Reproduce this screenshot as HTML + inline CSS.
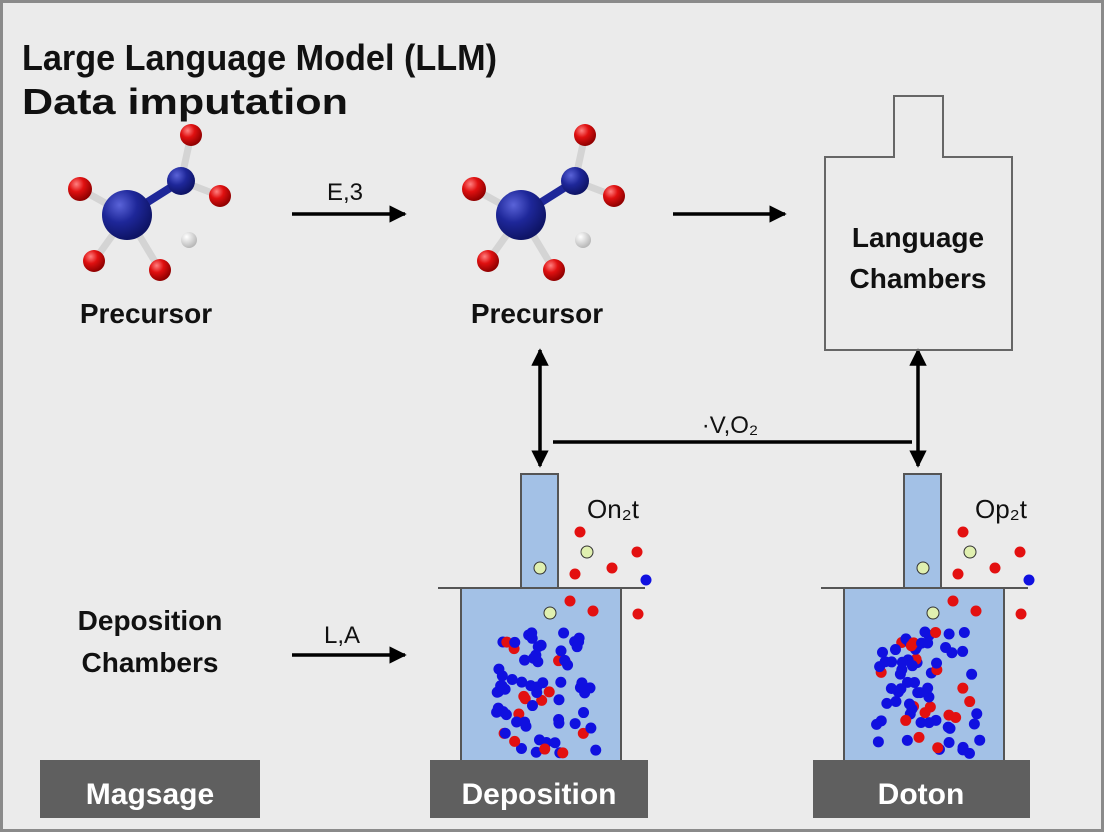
<!DOCTYPE html>
<html><head><meta charset="utf-8"><style>
html,body{margin:0;padding:0;background:#ebebeb}
svg{display:block}
text{font-family:"Liberation Sans",sans-serif;font-weight:bold;fill:#111}
</style></head><body>
<svg width="1104" height="832" viewBox="0 0 1104 832" xmlns="http://www.w3.org/2000/svg">
<defs>
<radialGradient id="bl" cx="35%" cy="30%" r="70%"><stop offset="0" stop-color="#5a63d8"/><stop offset="0.5" stop-color="#1e2799"/><stop offset="1" stop-color="#0e1466"/></radialGradient>
<radialGradient id="rd" cx="35%" cy="30%" r="70%"><stop offset="0" stop-color="#ff8080"/><stop offset="0.45" stop-color="#e01010"/><stop offset="1" stop-color="#900000"/></radialGradient>
<radialGradient id="wh" cx="35%" cy="30%" r="70%"><stop offset="0" stop-color="#ffffff"/><stop offset="1" stop-color="#b8b8b8"/></radialGradient>
<marker id="ah" viewBox="0 0 10 10" refX="9" refY="5" markerWidth="5" markerHeight="5" orient="auto-start-reverse"><path d="M0,0L10,5L0,10z" fill="#000"/></marker>
<g id="mol">
<g stroke="#d4d4d4" stroke-width="7"><line x1="127" y1="215" x2="80" y2="189"/><line x1="127" y1="215" x2="94" y2="261"/><line x1="127" y1="215" x2="160" y2="270"/><line x1="181" y1="181" x2="191" y2="135"/><line x1="181" y1="181" x2="220" y2="196"/></g>
<line x1="127" y1="215" x2="181" y2="181" stroke="#1e2799" stroke-width="8"/>
<circle cx="127" cy="215" r="25" fill="url(#bl)"/><circle cx="181" cy="181" r="14" fill="url(#bl)"/>
<circle cx="191" cy="135" r="11" fill="url(#rd)"/><circle cx="220" cy="196" r="11" fill="url(#rd)"/><circle cx="80" cy="189" r="12" fill="url(#rd)"/><circle cx="94" cy="261" r="11" fill="url(#rd)"/><circle cx="160" cy="270" r="11" fill="url(#rd)"/>
<circle cx="189" cy="240" r="8" fill="url(#wh)"/>
</g>
</defs>
<rect x="1.5" y="1.5" width="1101" height="829" fill="#ebebeb" stroke="#8a8a8a" stroke-width="3"/>
<text x="22" y="70" font-size="36" textLength="475" lengthAdjust="spacingAndGlyphs">Large Language Model (LLM)</text>
<text x="22" y="114" font-size="36" textLength="326" lengthAdjust="spacingAndGlyphs">Data imputation</text>
<use href="#mol"/>
<use href="#mol" x="394" y="0"/>
<text x="146" y="323" font-size="28" text-anchor="middle">Precursor</text>
<text x="537" y="323" font-size="28" text-anchor="middle">Precursor</text>
<text x="345" y="200" font-size="24" text-anchor="middle" style="font-weight:normal">E,3</text>
<g stroke="#000" stroke-width="3.5" fill="none">
<line x1="292" y1="214" x2="405" y2="214" marker-end="url(#ah)"/>
<line x1="673" y1="214" x2="785" y2="214" marker-end="url(#ah)"/>
<line x1="292" y1="655" x2="405" y2="655" marker-end="url(#ah)"/>
<line x1="540" y1="350" x2="540" y2="466" marker-start="url(#ah)" marker-end="url(#ah)"/>
<line x1="918" y1="350" x2="918" y2="466" marker-start="url(#ah)" marker-end="url(#ah)"/>
<line x1="553" y1="442" x2="912" y2="442"/>
</g>
<text x="730" y="433" font-size="24" text-anchor="middle" style="font-weight:normal">·V,O₂</text>
<text x="342" y="643" font-size="24" text-anchor="middle" style="font-weight:normal">L,A</text>
<path d="M825,157H894V96H943V157H1012V350H825Z" fill="none" stroke="#666" stroke-width="2"/>
<text x="918" y="247" font-size="28" text-anchor="middle">Language</text>
<text x="918" y="288" font-size="28" text-anchor="middle">Chambers</text>
<text x="150" y="630" font-size="28" text-anchor="middle">Deposition</text>
<text x="150" y="672" font-size="28" text-anchor="middle">Chambers</text>
<path d="M521,474H558V588H621V762H461V588H521Z" fill="#a3c1e6" stroke="#555" stroke-width="2"/>
<line x1="438" y1="588" x2="645" y2="588" stroke="#555" stroke-width="2"/>
<g transform="translate(383,0)">
<path d="M521,474H558V588H621V762H461V588H521Z" fill="#a3c1e6" stroke="#555" stroke-width="2"/>
<line x1="438" y1="588" x2="645" y2="588" stroke="#555" stroke-width="2"/>
</g>
<text x="587" y="518" font-size="26" style="font-weight:normal">On₂t</text>
<text x="975" y="518" font-size="26" style="font-weight:normal">Op₂t</text>
<g id="dots"></g>
<rect x="40" y="760" width="220" height="58" fill="#5f5f5f"/>
<rect x="430" y="760" width="218" height="58" fill="#5f5f5f"/>
<rect x="813" y="760" width="217" height="58" fill="#5f5f5f"/>
<text x="150" y="804" font-size="30" style="fill:#fff" text-anchor="middle">Magsage</text>
<text x="539" y="804" font-size="30" style="fill:#fff" text-anchor="middle">Deposition</text>
<text x="921" y="804" font-size="30" style="fill:#fff" text-anchor="middle">Doton</text>
</svg>
<script>
var g=document.getElementById('dots'),ns='http://www.w3.org/2000/svg';
function c(x,y,f,r,s){var e=document.createElementNS(ns,'circle');e.setAttribute('cx',x);e.setAttribute('cy',y);e.setAttribute('r',r||5.5);e.setAttribute('fill',f);if(s){e.setAttribute('stroke','#333');e.setAttribute('stroke-width','1');}g.appendChild(e);}
var seed=7;function rnd(){seed=(seed*9301+49297)%233280;return seed/233280;}
[0,383].forEach(function(o){
c(540+o,568,'#e0f0b0',6,1);c(587+o,552,'#e0f0b0',6,1);c(550+o,613,'#e0f0b0',6,1);
[[580,532],[637,552],[575,574],[612,568],[570,601],[593,611],[638,614]].forEach(function(p){c(p[0]+o,p[1],'#e31010');});
c(646+o,580,'#1010e0');
for(var i=0;i<75;i++){var y=632+rnd()*122;var w=(y-632)/122;var cx=543+(rnd()-0.5)*(80+45*w);
c(cx+o,y,rnd()<0.2?'#e31010':'#1010e0');}
});
</script>
</body></html>
